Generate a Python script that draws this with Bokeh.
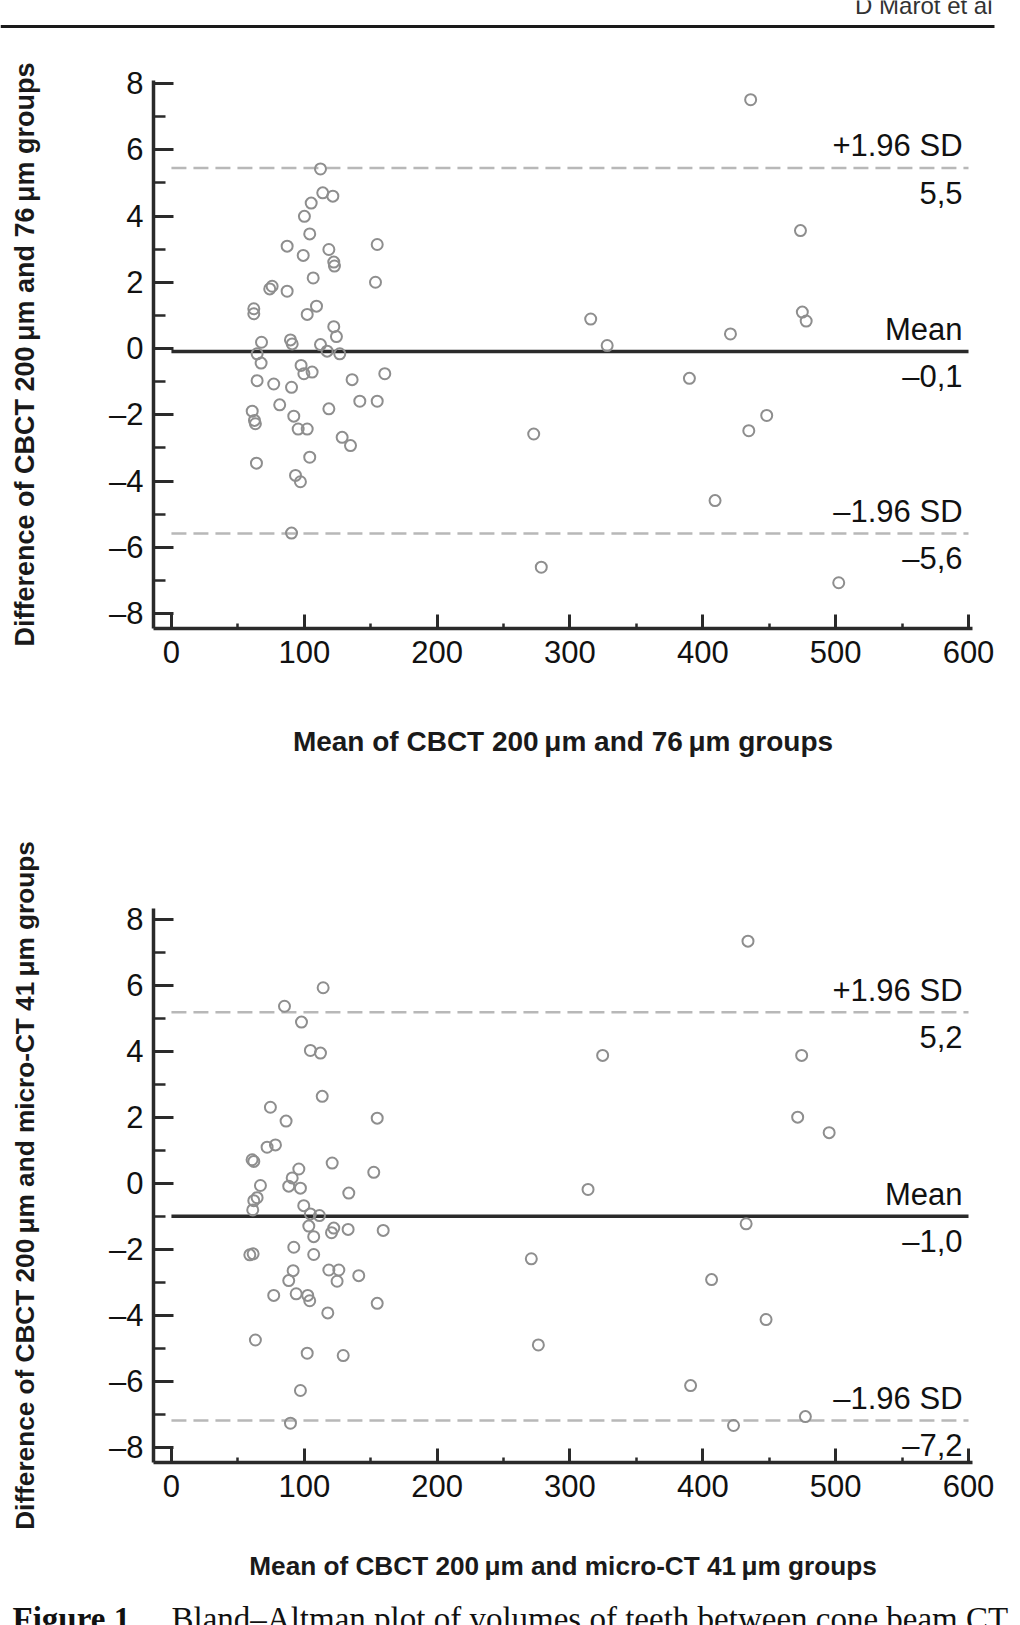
from bokeh.plotting import figure
from bokeh.models import Range1d, FixedTicker, ColumnDataSource
from bokeh.core.properties import value
from bokeh.embed import file_html
from bokeh.resources import INLINE

# ---------------- data ----------------
x_ticks = [0, 100, 200, 300, 400, 500, 600]
x_tick_labels = ["0", "100", "200", "300", "400", "500", "600"]
x_minor = [50, 150, 250, 350, 450, 550]
y_ticks = [-8, -6, -4, -2, 0, 2, 4, 6, 8]
y_tick_labels = ["\u20138", "\u20136", "\u20134", "\u20132", "0", "2", "4", "6", "8"]
y_minor = [-7, -5, -3, -1, 1, 3, 5, 7]

# plot A: CBCT 200 um vs 76 um
a_x = [112.2, 113.9, 121.5, 105.2, 100.1, 104.1, 87.1, 99.2, 118.5, 122.2, 122.7, 154.9, 153.6,
       106.7, 75.8, 74.0, 87.1, 62.0, 62.0, 109.2, 102.2, 122.2, 124.2, 67.8, 89.6, 90.9, 112.2,
       117.2, 126.7, 64.5, 67.5, 97.6, 99.7, 105.9, 64.5, 77.0, 90.4, 136.0, 160.6, 141.8, 154.9,
       81.5, 60.8, 62.5, 63.2, 118.5, 92.1, 95.4, 102.2, 128.5, 134.8, 64.0, 104.1, 93.4, 97.1,
       90.4,
       436.0, 473.5, 474.9, 477.8, 315.6, 328.0, 420.8, 389.9, 448.1, 434.6, 272.7, 409.2, 278.4,
       502.3]
a_y = [5.42, 4.70, 4.60, 4.39, 3.99, 3.46, 3.09, 2.81, 2.99, 2.61, 2.49, 3.14, 2.00,
       2.13, 1.88, 1.80, 1.73, 1.20, 1.05, 1.28, 1.03, 0.66, 0.36, 0.19, 0.26, 0.14, 0.12,
       -0.08, -0.16, -0.16, -0.44, -0.51, -0.76, -0.71, -0.97, -1.07, -1.17, -0.94, -0.76, -1.59, -1.59,
       -1.70, -1.89, -2.17, -2.27, -1.82, -2.04, -2.43, -2.43, -2.68, -2.93, -3.46, -3.28, -3.83, -4.02,
       -5.57,
       7.51, 3.56, 1.10, 0.83, 0.89, 0.09, 0.44, -0.90, -2.02, -2.48, -2.58, -4.59, -6.60,
       -7.07]
a_lines = [5.45, -0.09, -5.58]
a_above = ["+1.96 SD", "Mean", "\u20131.96 SD"]
a_below = ["5,5", "\u20130,1", "\u20135,6"]
a_xlabel = "Mean of CBCT 200\u2009\u03bcm and 76\u2009\u03bcm groups"
a_ylabel = "Difference of CBCT 200\u2009\u03bcm and 76\u2009\u03bcm groups"

# plot B: CBCT 200 um vs micro-CT 41 um
b_x = [114.2, 85.1, 97.9, 104.6, 112.2, 113.5, 74.5, 86.3, 154.9, 72.0, 78.3, 60.7, 62.0, 121.0,
       95.9, 152.3, 90.9, 67.0, 88.3, 97.1, 133.5, 64.5, 62.0, 99.6, 61.2, 104.6, 111.4, 103.4,
       122.2, 120.5, 133.0, 159.4, 107.1, 92.1, 107.1, 59.0, 61.5, 91.6, 88.3, 118.5, 126.0, 124.7,
       141.0, 77.0, 93.9, 102.6, 104.1, 154.9, 117.7, 63.2, 102.2, 129.3, 97.1, 89.6,
       434.0, 324.6, 474.4, 471.4, 495.1, 313.6, 432.6, 270.9, 406.6, 447.6, 276.2, 390.8, 477.2,
       423.1]
b_y = [5.93, 5.37, 4.89, 4.03, 3.95, 2.64, 2.31, 1.89, 1.98, 1.10, 1.17, 0.72, 0.67, 0.62,
       0.44, 0.34, 0.17, -0.06, -0.08, -0.14, -0.29, -0.43, -0.52, -0.67, -0.80, -0.92, -0.97, -1.29,
       -1.35, -1.49, -1.39, -1.42, -1.61, -1.93, -2.15, -2.16, -2.13, -2.64, -2.94, -2.62, -2.62, -2.96,
       -2.79, -3.39, -3.34, -3.39, -3.55, -3.63, -3.92, -4.74, -5.14, -5.21, -6.27, -7.26,
       7.34, 3.88, 3.88, 2.01, 1.54, -0.18, -1.22, -2.28, -2.91, -4.12, -4.89, -6.12, -7.06,
       -7.33]
b_lines = [5.19, -0.99, -7.18]
b_above = ["+1.96 SD", "Mean", "\u20131.96 SD"]
b_below = ["5,2", "\u20131,0", "\u20137,2"]
b_xlabel = "Mean of CBCT 200\u2009\u03bcm and micro-CT 41\u2009\u03bcm groups"
b_ylabel = "Difference of CBCT 200\u2009\u03bcm and micro-CT 41\u2009\u03bcm groups"

header_text = "D Marot et al"
caption_bold = "Figure 1"
caption_text = "Bland\u2013Altman plot of volumes of teeth between cone beam CT"

# ---------------- styling ----------------
DARK = "#2a2a2a"
PT = "#8e8e8e"
DASH = "#b8b8b8"
SANS = "Liberation Sans"


def bland_altman(xs, ys, lines, above, below, xlabel, ylabel, height, top, bottom, y_top,
                 xlab_size, xlab_standoff, ylab_size):
    p = figure(width=1020, height=height, output_backend="svg", toolbar_location=None,
               x_range=Range1d(-13.5, 603), y_range=Range1d(-8.45, y_top),
               min_border_left=153, min_border_right=48,
               min_border_top=top, min_border_bottom=bottom)
    p.outline_line_color = None
    p.grid.visible = False
    p.background_fill_color = "white"
    p.border_fill_color = "white"

    for ax in (p.xaxis[0], p.yaxis[0]):
        ax.axis_line_color = DARK
        ax.axis_line_width = 3.5
        ax.major_tick_line_color = DARK
        ax.major_tick_line_width = 3
        ax.minor_tick_line_color = DARK
        ax.minor_tick_line_width = 2.5
        ax.major_tick_out = 0
        ax.minor_tick_out = 0
        ax.major_label_text_font = SANS
        ax.major_label_text_font_size = "31px"
        ax.major_label_text_color = "#111111"
        ax.axis_label_text_font = SANS
        ax.axis_label_text_font_style = "bold"
        ax.axis_label_text_color = "#1a1a1a"

    xa = p.xaxis[0]
    xa.ticker = FixedTicker(ticks=x_ticks, minor_ticks=x_minor)
    xa.major_label_overrides = {t: l for t, l in zip(x_ticks, x_tick_labels)}
    xa.major_tick_in = 14
    xa.minor_tick_in = 5
    xa.major_label_standoff = 12
    xa.axis_label = xlabel
    xa.axis_label_text_font_size = xlab_size
    xa.axis_label_standoff = xlab_standoff

    ya = p.yaxis[0]
    ya.ticker = FixedTicker(ticks=y_ticks, minor_ticks=y_minor)
    ya.major_label_overrides = {t: l for t, l in zip(y_ticks, y_tick_labels)}
    ya.major_tick_in = 20
    ya.minor_tick_in = 12
    ya.major_label_standoff = 10
    ya.axis_label = ylabel
    ya.axis_label_text_font_size = ylab_size
    ya.axis_label_standoff = 66

    x0 = [x_ticks[0]] * 3
    x1 = [x_ticks[-1]] * 3
    # limits of agreement (dashed) and mean (solid)
    p.segment(x0=[x0[0], x0[2]], y0=[lines[0], lines[2]], x1=[x1[0], x1[2]], y1=[lines[0], lines[2]],
              line_color=DASH, line_width=2.5, line_dash="15 7")
    p.segment(x0=[x0[1]], y0=[lines[1]], x1=[x1[1]], y1=[lines[1]],
              line_color=DARK, line_width=3.5)

    p.scatter(xs, ys, marker="circle", size=11, fill_color=None,
              line_color=PT, line_width=2)

    src = ColumnDataSource(dict(x=x1, y=lines, above=above, below=below))
    p.text(x="x", y="y", text="above", source=src, text_align="right",
           text_baseline="middle", x_offset=-6, y_offset=-22,
           text_font=value(SANS), text_font_size=value("31px"), text_color="#111111")
    p.text(x="x", y="y", text="below", source=src, text_align="right",
           text_baseline="middle", x_offset=-6, y_offset=25,
           text_font=value(SANS), text_font_size=value("31px"), text_color="#111111")
    return p


def blank(height):
    p = figure(width=1020, height=height, output_backend="svg", toolbar_location=None,
               x_range=Range1d(0, 1020), y_range=Range1d(height, 0),
               x_axis_location=None, y_axis_location=None, min_border=0)
    p.outline_line_color = None
    p.grid.visible = False
    return p


hdr = blank(60)
hdr.segment(x0=[0], y0=[26], x1=[994], y1=[26], line_color="#1a1a1a", line_width=3)
hdr.text(x=[992], y=[4.5], text=[header_text], text_align="right", text_baseline="middle",
         text_font=value(SANS), text_font_size=value("24px"), text_color="#333333")

pa = bland_altman(a_x, a_y, a_lines, a_above, a_below, a_xlabel, a_ylabel,
                  height=710, top=20, bottom=142, y_top=8.09,
                  xlab_size="28px", xlab_standoff=60, ylab_size="27px")
pb = bland_altman(b_x, b_y, b_lines, b_above, b_below, b_xlabel, b_ylabel,
                  height=825, top=138, bottom=133, y_top=8.33,
                  xlab_size="26.2px", xlab_standoff=51, ylab_size="26.2px")

cap = blank(30)
cap.text(x=[12], y=[23], text=[caption_bold], text_align="left", text_baseline="middle",
         text_font=value("Liberation Serif"), text_font_style="bold",
         text_font_size=value("33px"), text_color="#111111")
cap.text(x=[171], y=[23], text=[caption_text], text_align="left", text_baseline="middle",
         text_font=value("Liberation Serif"), text_font_size=value("33px"), text_color="#111111")

open("out.html", "w").write(file_html([hdr, pa, pb, cap], INLINE))
